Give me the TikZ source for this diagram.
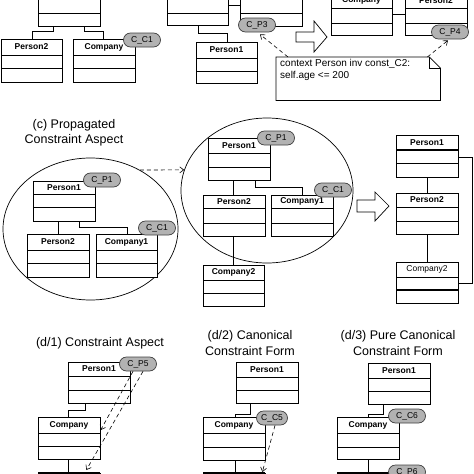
\documentclass[tikz,border=0pt]{standalone}
\usepackage{fontspec}
\setmainfont{Liberation Sans}
\usetikzlibrary{shapes.geometric,shapes.misc,arrows.meta,calc}

\tikzset{
 clsbox/.style={draw, line width=0.7pt, rectangle, inner sep=0pt, fill=white},
 divline/.style={line width=0.7pt},
 thickdiv/.style={line width=1.5pt},
 clslabel/.style={font=\fontsize{8.5}{10}\selectfont\bfseries, inner sep=0pt},
 blob/.style={rounded rectangle, draw=black!75, fill=black!30, line width=0.7pt, minimum width=39pt, minimum height=14pt, inner sep=1pt, font=\fontsize{8.5}{10}\selectfont},
 link/.style={line width=0.8pt},
 dep/.style={dash pattern=on 4pt off 3pt, line width=0.6pt, -{Straight Barb[length=4pt,width=6pt]}},
 titletext/.style={font=\fontsize{12.5}{15.5}\selectfont, align=center, inner sep=0pt},
 bigarrow/.style={draw, line width=0.7pt, fill=white},
 ovalgroup/.style={ellipse, draw, line width=0.7pt, inner sep=0pt},
 notetext/.style={font=\fontsize{10}{12}\selectfont, align=left, inner sep=0pt, anchor=north west},
}

% name, label, x1, x2, ytop, yheader, ydivider, ybottom
\newcommand\umlclass[8]{%
  \node[clsbox, minimum width={#4-#3}, minimum height={#8-#5}, anchor=north west] (#1) at (#3,#5) {};
  \draw[divline] (#3,#6) -- (#4,#6) (#3,#7) -- (#4,#7);
  \node[clslabel] (#1-t) at ({(#3+#4)/2},{(#5+#6)/2}) {#2};
}

\begin{document}
\begin{tikzpicture}[x=1pt,y=-1pt]
\useasboundingbox (0,0) rectangle (474,474);
\clip (0,0) rectangle (474,474);

% ---------------- top row ----------------
\umlclass{tlTop}{}{38}{100}{-20}{-1}{13}{26}
\umlclass{tlP2}{Person2}{1}{62}{39}{55}{68}{82}
\umlclass{tlCo}{Company}{73}{135}{39}{55}{68}{82}
\draw[link] (tlTop.south -| 53,0) -- (53,31) -| (tlP2.north -| 32,0);
\draw[link] (tlTop.south -| 84,0) -- (84,31) -| (tlCo.north -| 103,0);
\node[blob] (tcc1) at (142,40) {C\_C1};

\umlclass{tmA}{}{167}{228}{-20}{-1}{13}{25}
\umlclass{tmB}{}{240}{302}{-20}{-1}{13}{26}
\draw[link] (tmA.east |- 0,5) -- (tmB.west |- 0,5);
\umlclass{tmP1}{Person1}{196}{257}{42}{58}{71}{83}
\draw[link] (tmA.south -| 198,0) -- (198,33) -| (tmP1.north -| 227,0);
\node[blob] (cp3) at (257,25) {C\_P3};

\draw[bigarrow] (296,32) -- (314,32) -- (314,21) -- (327,37) -- (314,52) -- (314,42) -- (296,42) -- cycle;

\umlclass{trCo}{Company}{331}{392}{-7}{8}{23}{35}
\umlclass{trP2}{Person2}{405}{467}{-7}{8}{23}{35}
\draw[link] (trCo.east |- 0,14) -- (trP2.west |- 0,14);
\node[blob] (cp4) at (450,32) {C\_P4};

\node[minimum width=164, minimum height=43, inner sep=0pt, anchor=north west] (note) at (276,57) {};
\draw[line width=0.7pt, fill=white] (note.north west) -- ($(note.north east)+(-11,0)$) -- ($(note.north east)+(0,11)$) -- (note.south east) -- (note.south west) -- cycle;
\draw[line width=0.7pt] ($(note.north east)+(-11,0)$) -- ($(note.north east)+(-11,11)$) -- ($(note.north east)+(0,11)$);
\node[notetext] (notet) at (280,59) {context Person inv const\_C2:\\self.age <= 200};
\draw[dep] ($(note.north west)+(12,0)$) -- ($(cp3.south)+(3,2)$);
\draw[dep] ($(note.north east)+(-13,0)$) -- ($(cp4.south)+(-2,1)$);

% ---------------- middle row ----------------
\node[titletext] (tc) at (74,133) {(c) Propagated\\Constraint Aspect};

\node[ovalgroup, minimum width=175, minimum height=142] (e1) at (90.5,229) {};
\node[ovalgroup, minimum width=172, minimum height=145] (e2) at (267,190.5) {};
\draw[dep] (e1.50) -- (e2.166);

\umlclass{cAP1}{Person1}{33}{95}{181}{194}{207}{221}
\umlclass{cAP2}{Person2}{27}{89}{234}{250}{263}{277}
\umlclass{cACo}{Company1}{96}{157}{234}{250}{263}{277}
\draw[link] (cAP1.south -| 58,0) -- (cAP2.north -| 58,0);
\draw[link] (cAP1.south -| 79,0) -- (79,227) -| (cACo.north -| 127,0);
\node[blob] (cAp1) at (102,180) {C\_P1};
\node[blob] (cAc1) at (157,228) {C\_C1};

\umlclass{cBP1}{Person1}{208}{270}{138}{153}{167}{180}
\umlclass{cBP2}{Person2}{203}{265}{195}{208}{223}{236}
\umlclass{cBCo}{Company1}{271}{333}{195}{208}{223}{236}
\umlclass{cBC2}{Company2}{203}{264}{265}{280}{293}{306}
\draw[link] (cBP1.south -| 233,0) -- (cBP2.north -| 233,0);
\draw[link] (cBP1.south -| 255,0) -- (255,187) -| (cBCo.north -| 302,0);
\draw[link] (cBP2.south -| 233,0) -- (cBC2.north -| 233,0);
\node[blob] (cBp1) at (276,138) {C\_P1};
\node[blob] (cBc1) at (333,190) {C\_C1};

\draw[bigarrow] (357,200) -- (375,200) -- (375,192) -- (389,206) -- (375,221) -- (375,212) -- (357,212) -- cycle;

\umlclass{cCP1}{Person1}{396}{458}{135}{150}{163}{177}
\umlclass{cCP2}{Person2}{396}{458}{193}{207}{221}{234}
\umlclass{cCC2}{\mdseries Company2}{396}{458}{262}{277}{290}{303}
\draw[thickdiv] (396,150) -- (458,150);
\draw[thickdiv] (396,290) -- (458,290);
\draw[link] (cCP1.south -| 427,0) -- (cCP2.north -| 427,0);
\draw[link] (cCP2.south -| 427,0) -- (cCC2.north -| 427,0);
\draw[link] (cCP1.east |- 0,157) -- (472,157) |- (cCC2.east |- 0,283);

% ---------------- bottom row ----------------
\node[titletext] (td1) at (100,343) {(d/1) Constraint Aspect};
\node[titletext] (td2) at (250,343) {(d/2) Canonical\\Constraint Form};
\node[titletext] (td3) at (398,343) {(d/3) Pure Canonical\\Constraint Form};

\umlclass{d1P1}{Person1}{68}{130}{362}{376}{390}{403}
\umlclass{d1Co}{Company}{38}{100}{417}{433}{446}{459}
\umlclass{d1B}{}{38}{100}{473}{490}{500}{510}
\draw[thickdiv] (38,473) -- (100,473);
\draw[link] (d1P1.south -| 85,0) -- (85,410) -| (d1Co.north -| 68,0);
\draw[link] (d1Co.south -| 68,0) -- (d1B.north -| 68,0);
\node[blob] (cp5) at (138,364) {C\_P5};
\draw[dep] ($(cp5.south)+(-5,0)$) -- (d1Co.east |- 0,430);
\draw[dep] ($(cp5.south)+(5,0)$) -- ($(d1B.north)+(17,-3)$);

\umlclass{d2P1}{Person1}{236}{298}{362}{377}{390}{403}
\umlclass{d2Co}{Company}{203}{265}{417}{433}{447}{460}
\umlclass{d2B}{}{203}{265}{473}{490}{500}{510}
\draw[thickdiv] (203,473) -- (265,473);
\draw[link] (d2P1.south -| 250,0) -- (250,414) -| (d2Co.north -| 235,0);
\draw[link] (d2Co.south -| 235,0) -- (d2B.north -| 235,0);
\node[blob, minimum width=33pt] (cc5) at (272,418) {C\_C5};
\draw[dep] ($(cc5.south)+(3,0)$) -- ($(d2B.north)+(28,-1)$);

\umlclass{d3P1}{Person1}{368}{430}{363}{378}{391}{404}
\umlclass{d3Co}{Company}{337}{399}{417}{433}{447}{459}
\umlclass{d3B}{}{337}{399}{473}{490}{500}{510}
\draw[thickdiv] (337,473) -- (399,473);
\draw[link] (d3P1.south -| 383,0) -- (383,414) -| (d3Co.north -| 368,0);
\draw[link] (d3Co.south -| 368,0) -- (d3B.north -| 368,0);
\node[blob] (cc6) at (407,416) {C\_C6};
\node[blob] (cp6) at (407,472) {C\_P6};
\end{tikzpicture}
\end{document}
